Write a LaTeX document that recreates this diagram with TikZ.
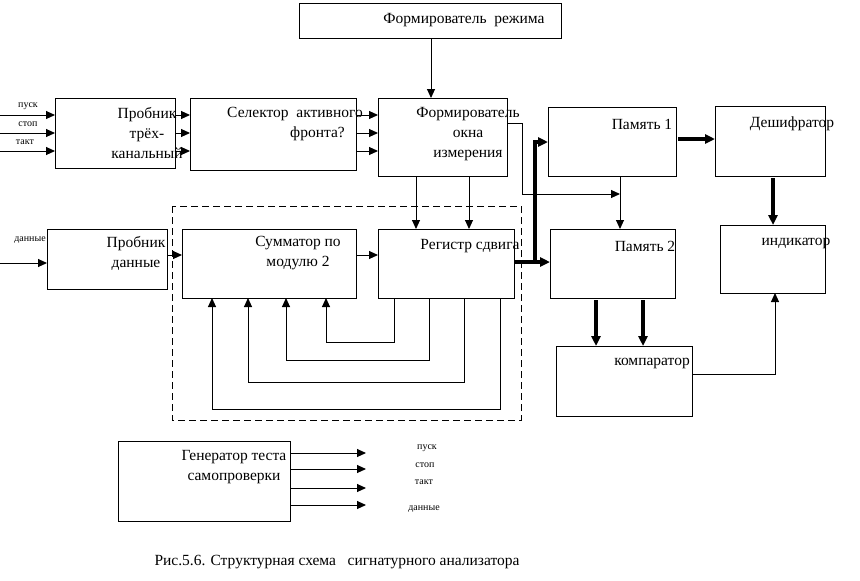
\documentclass[tikz,border=0pt]{standalone}
\usepackage{fontspec}
\setmainfont{Liberation Serif}
\usetikzlibrary{arrows.meta}
\begin{document}
\begin{tikzpicture}[x=1pt,y=-1pt,
 box/.style={draw,line width=1pt},
 ar/.style={-{Triangle[length=9pt,width=8pt]},line width=1pt},
 thk/.style={-{Triangle[length=10pt,width=9pt]},line width=3.5pt},
 txt/.style={font=\fontsize{15.5}{20}\selectfont,align=center,inner sep=0pt},
 sm/.style={font=\fontsize{10}{11}\selectfont,inner sep=0pt}]
\useasboundingbox (0,0) rectangle (860,581);
\draw[box] (299,3) rectangle (561,38); \node[txt] (tr) at (464,20) {Формирователь\ \ режима};
\draw[box] (55,98) rectangle (175,168);
\node[txt] (t1) at (147,133) {Пробник\\трёх-\\канальный};
\draw[box] (190,98) rectangle (356,170);
\node[txt] (t2) at (295,124) {Селектор\ \ активного\\\hspace*{45pt}фронта?};
\draw[box] (378,98) rectangle (507,176);
\node[txt] (t3) at (468,134) {Формирователь\\окна\\измерения};
\draw[box] (548,107) rectangle (676,176); \node[txt] (t4) at (642,124) {Память 1};
\draw[box] (715,106) rectangle (825,176); \node[txt] (t5) at (792,124) {Дешифратор};
\draw[box] (47,229) rectangle (167,289); \node[txt] (t6) at (136,253) {Пробник\\данные};
\draw[box] (182,229) rectangle (356,298); \node[txt] (t7) at (298,253) {Сумматор по\\модулю 2};
\draw[box] (378,229) rectangle (514,298); \node[txt] (t8) at (470,246) {Регистр сдвига};
\draw[box] (550,229) rectangle (675,298); \node[txt] (t9) at (645,246) {Память 2};
\draw[box] (720,225) rectangle (825,293); \node[txt] (t10) at (796,243) {индикатор};
\draw[box] (556,346) rectangle (692,416); \node[txt] (t11) at (652,363) {компаратор};
\draw[box] (118,441) rectangle (290,521); \node[txt] (t12) at (234,467) {Генератор теста\\самопроверки};
\draw[line width=1pt,dash pattern=on 7pt off 4pt] (172,206) rectangle (521,420);
% inputs
\node[sm] at (28,106) {пуск}; \node[sm] at (28,124) {стоп}; \node[sm] at (25,142) {такт};
\node[sm] at (30,240) {данные};
\foreach \y in {115,133,151} {\draw[ar] (0,\y) -- (55,\y); \draw[ar] (175,\y) -- (190,\y); \draw[ar] (356,\y) -- (378,\y);}
\draw[ar] (0,263) -- (47,263);
\draw[ar] (167,255) -- (182,255);
\draw[ar] (356,255) -- (378,255);
\draw[ar] (431,38) -- (431,98);
\draw[ar] (416,176) -- (416,229);
\draw[ar] (469,176) -- (469,229);
% feedback
\draw[ar] (394,298) -- (394,342) -- (326,342) -- (326,298);
\draw[ar] (429,298) -- (429,360) -- (286,360) -- (286,298);
\draw[ar] (464,298) -- (464,382) -- (248,382) -- (248,298);
\draw[ar] (500,298) -- (500,409) -- (212,409) -- (212,298);
% bus
\draw[thk] (514,262) -- (550,262);
\draw[thk] (535,263) -- (535,142) -- (548,142);
\draw[ar] (507,123) -- (522,123) -- (522,194) -- (620,194);
\draw[ar] (620,176) -- (620,229);
\draw[thk] (678,139) -- (715,139);
\draw[thk] (773,178) -- (773,225);
\draw[thk] (596,300) -- (596,346);
\draw[thk] (643,300) -- (643,346);
\draw[ar] (692,374) -- (775,374) -- (775,293);
% generator outputs
\foreach \y in {453,469,488,505} \draw[ar] (290,\y) -- (366,\y);
\node[sm] at (427,448) {пуск}; \node[sm] at (425,465) {стоп}; \node[sm] at (424,482) {такт}; \node[sm] at (424,509) {данные};
\node[txt] (cap) at (337,562) {Рис.5.6. Структурная схема\ \ \ сигнатурного анализатора};
\end{tikzpicture}
\end{document}
